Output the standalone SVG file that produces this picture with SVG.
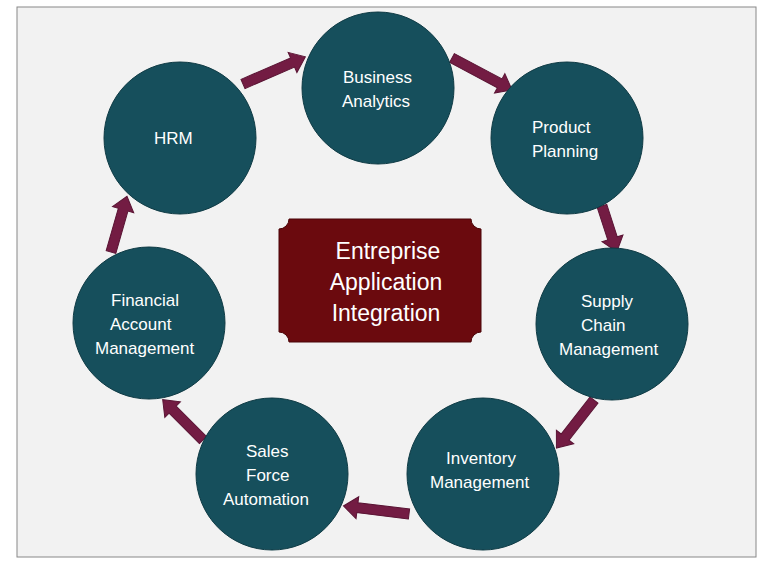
<svg xmlns="http://www.w3.org/2000/svg" width="768" height="576" viewBox="0 0 768 576">
<style>
.n{fill:#164f5c;stroke:#0e3a44;stroke-width:1}
.t{fill:#fff;font-family:"Liberation Sans",Arial,sans-serif;font-size:17px}
.a{fill:#731c43;stroke:#5a1434;stroke-width:1}
.c{fill:#fff;font-family:"Liberation Sans",Arial,sans-serif;font-size:23px;text-anchor:middle}
</style>
<rect x="0" y="0" width="768" height="576" fill="#fff"/>
<rect x="17" y="7" width="739" height="550" fill="#f2f2f2" stroke="#888" stroke-width="1"/>
<g id="connectors">
<path class="a" transform="translate(243,84) rotate(-23.5)" d="M0,-5H54V-11L68,0L54,11V5H0Z"/>
<path class="a" transform="translate(452,58) rotate(28)" d="M0,-5H54V-11L68,0L54,11V5H0Z"/>
<path class="a" transform="translate(602,206) rotate(72)" d="M0,-5H34V-11L48,0L34,11V5H0Z"/>
<path class="a" transform="translate(594,400) rotate(128)" d="M0,-5H47V-11L61,0L47,11V5H0Z"/>
<path class="a" transform="translate(409,514) rotate(187)" d="M0,-5H52V-11L66,0L52,11V5H0Z"/>
<path class="a" transform="translate(203,440) rotate(225)" d="M0,-5H43V-11L57,0L43,11V5H0Z"/>
<path class="a" transform="translate(111,252) rotate(-74)" d="M0,-5H44V-11L58,0L44,11V5H0Z"/>
</g>
<g id="center">
<path d="M289,219H471A10,10 0 0 0 481,229V332A10,10 0 0 0 471,342H289A10,10 0 0 0 279,332V229A10,10 0 0 0 289,219Z" fill="#6b0a0e" stroke="#4a0508"/>
<text class="c"><tspan x="388" y="259">Entreprise</tspan><tspan x="386" y="290">Application</tspan><tspan x="386" y="321">Integration</tspan></text>
</g>
<g id="business"><circle class="n" cx="378" cy="88" r="76"/><text class="t"><tspan x="343" y="83">Business</tspan><tspan x="342" y="107">Analytics</tspan></text></g>
<g id="product"><circle class="n" cx="567" cy="138" r="76"/><text class="t"><tspan x="532" y="133">Product</tspan><tspan x="532" y="157">Planning</tspan></text></g>
<g id="supply"><circle class="n" cx="612" cy="324" r="76"/><text class="t"><tspan x="581" y="307">Supply</tspan><tspan x="581" y="331">Chain</tspan><tspan x="559" y="355">Management</tspan></text></g>
<g id="inventory"><circle class="n" cx="483" cy="474" r="76"/><text class="t"><tspan x="446" y="464">Inventory</tspan><tspan x="430" y="488">Management</tspan></text></g>
<g id="sales"><circle class="n" cx="272" cy="474" r="76"/><text class="t"><tspan x="246" y="457">Sales</tspan><tspan x="246" y="481">Force</tspan><tspan x="223" y="505">Automation</tspan></text></g>
<g id="financial"><circle class="n" cx="149" cy="323" r="76"/><text class="t"><tspan x="111" y="306">Financial</tspan><tspan x="110" y="330">Account</tspan><tspan x="95" y="354">Management</tspan></text></g>
<g id="hrm"><circle class="n" cx="180" cy="138" r="76"/><text class="t"><tspan x="154" y="144">HRM</tspan></text></g>
</svg>
